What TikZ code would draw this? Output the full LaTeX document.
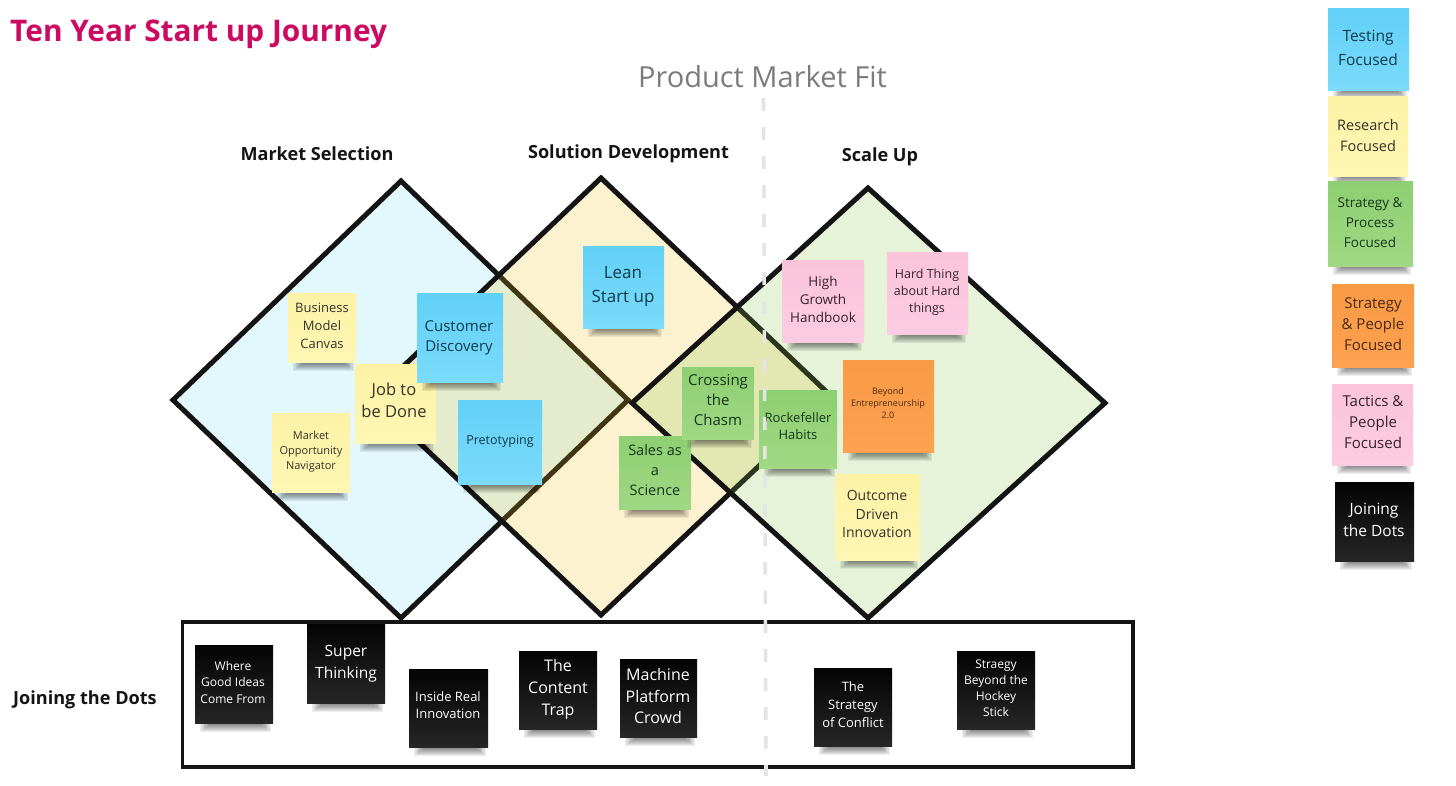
\documentclass[tikz,border=0pt]{standalone}
\usepackage{fontspec}
\setmainfont{Open Sans}
\definecolor{dline}{HTML}{141414}
\definecolor{dashgrey}{HTML}{E4E4E4}
\definecolor{dOneFill}{HTML}{E3F8FC}
\definecolor{dTwoFill}{RGB}{240,190,20}
\definecolor{dThreeFill}{RGB}{130,195,65}
\definecolor{titlepink}{HTML}{CC0A62}
\definecolor{pmfgrey}{HTML}{7C7C7C}
\definecolor{stBlueTop}{HTML}{62D0F7}\definecolor{stBlueBot}{HTML}{7BDBFA}
\definecolor{stYelTop}{HTML}{FDF2A6}\definecolor{stYelBot}{HTML}{FEF6B4}
\definecolor{stGreenTop}{HTML}{8DCF72}\definecolor{stGreenBot}{HTML}{A0D884}
\definecolor{stOrTop}{HTML}{F99A45}\definecolor{stOrBot}{HTML}{FDA251}
\definecolor{stPinkTop}{HTML}{FBC4DB}\definecolor{stPinkBot}{HTML}{FCCCE1}
\definecolor{stBlackTop}{HTML}{040404}\definecolor{stBlackBot}{HTML}{262626}
\definecolor{txBlue}{HTML}{0C3A4C}
\definecolor{txYel}{HTML}{33332A}
\definecolor{txGreen}{HTML}{17351A}
\definecolor{txOr}{HTML}{4A2A10}
\definecolor{txPink}{HTML}{33222C}
\tikzset{
  x=1pt,y=-1pt,
  diamondbox/.style={draw=dline,line width=5pt,line join=miter,miter limit=10},
  stickybase/.style={draw=none,inner sep=0pt,outer sep=0pt},
  stickyblue/.style={stickybase,top color=stBlueTop,bottom color=stBlueBot},
  stickyyellow/.style={stickybase,top color=stYelTop,bottom color=stYelBot},
  stickygreen/.style={stickybase,top color=stGreenTop,bottom color=stGreenBot},
  stickyorange/.style={stickybase,top color=stOrTop,bottom color=stOrBot},
  stickypink/.style={stickybase,top color=stPinkTop,bottom color=stPinkBot},
  stickyblack/.style={stickybase,top color=stBlackTop,bottom color=stBlackBot},
  heading/.style={font=\fontsize{18.1}{20}\selectfont\bfseries,text=black!92,inner sep=0pt},
}
% \sticky{name}{x0}{y0}{x1}{y1}{style}{text colour}{tx}{ty}{size}{leading}{text}
\newcommand{\sticky}[5]{\def\stN{#1}\def\stA{#2}\def\stB{#3}\def\stC{#4}\def\stD{#5}\stickyrest}
\newcommand{\stickyrest}[7]{%
  \foreach \i in {0,...,7}{
    \fill[black,opacity=.065] ({\stA+5+1.3*\i},\stD) rectangle ({\stC-2-1.3*\i},{\stD+8.5-\i});
  }
  \node[#1,minimum width={(\stC-\stA)*1pt},minimum height={(\stD-\stB)*1pt}]
     (\stN) at ({(\stA+\stC)/2},{(\stB+\stD)/2}) {};
  \node[inner sep=0pt,align=center,text=#2,font=\fontsize{#5}{#6}\selectfont]
     (\stN-t) at (#3,#4) {#7};
}
\begin{document}
\begin{tikzpicture}
\useasboundingbox (0,0) rectangle (1456,786);
\fill[white] (0,0) rectangle (1456,786);

% titles
\node[inner sep=0pt,anchor=west,text=titlepink,font=\fontsize{29.8}{32}\selectfont\bfseries] (title) at (10,34) {Ten Year Start up Journey};
\node[inner sep=0pt,text=pmfgrey,font=\fontsize{29}{32}\selectfont] (pmf) at (762.5,77) {Product Market Fit};
\node[heading] (hMarket) at (317,154) {Market Selection};
\node[heading] (hSolution) at (628.5,154) {Solution Development};
\node[heading] (hScale) at (880,157) {Scale Up};
\node[heading,anchor=west] (hJoin) at (13,700) {Joining the Dots};

% diamonds
\path[diamondbox,fill=dOneFill] (401,181) -- (628,400) -- (401,618) -- (173,400) -- cycle;
\path[diamondbox,fill=dTwoFill,fill opacity=.2] (601,178) -- (832,397) -- (601,615) -- (371,397) -- cycle;
\path[diamondbox,fill=dThreeFill,fill opacity=.2] (868,188) -- (1105,403) -- (868,618) -- (632,403) -- cycle;

% bottom box
\draw[draw=dline,line width=3.4pt,line join=miter] (182.5,622) rectangle (1133,767);

% stickies in the diamonds
\sticky{bmc}{288}{294}{356}{362}{stickyyellow}{txYel}{322}{326}{13}{18}{Business\\Model\\Canvas}
\sticky{mon}{272}{413}{350}{492}{stickyyellow}{txYel}{311}{452}{11}{15}{Market\\Opportunity\\Navigator}
\sticky{jtbd}{355}{364}{436}{443}{stickyyellow}{txYel}{394}{400}{16.5}{22}{Job to\\be Done}
\sticky{cd}{417}{294}{503}{382}{stickyblue}{txBlue}{459}{337.5}{15}{20}{Customer\\Discovery}
\sticky{pret}{458}{400}{542}{484}{stickyblue}{txBlue}{500}{441}{12.5}{16}{Pretotyping}
\sticky{lean}{583}{247}{664}{328}{stickyblue}{txBlue}{623}{286}{17}{24}{Lean\\Start up}
\sticky{sas}{619}{436}{691}{509}{stickygreen}{txGreen}{655}{470}{14.5}{20}{Sales as\\a\\Science}
\sticky{ctc}{682}{367}{754}{439}{stickygreen}{txGreen}{718}{400}{15}{20}{Crossing\\the\\Chasm}
\sticky{rock}{759}{390}{837}{468}{stickygreen}{txGreen}{798}{426}{13}{17.5}{Rockefeller\\Habits}
\sticky{hgh}{782}{261}{864}{342}{stickypink}{txPink}{823}{299}{13.5}{18}{High\\Growth\\Handbook}
\sticky{htht}{887}{253}{968}{334}{stickypink}{txPink}{927}{292}{12.5}{17}{Hard Thing\\about Hard\\things}
\sticky{be}{843}{360}{934}{452}{stickyorange}{txOr}{888}{403}{9}{12}{Beyond\\Entrepreneurship\\2.0}
\sticky{odi}{835}{474}{920}{560}{stickyyellow}{txYel}{877}{514}{14}{18.5}{Outcome\\Driven\\Innovation}

% stickies in the bottom box
\sticky{wgi}{195}{645}{273}{723}{stickyblack}{white}{233}{682}{12}{16.5}{Where\\Good Ideas\\Come From}
\sticky{sth}{307}{624}{385}{703}{stickyblack}{white}{346}{664}{15.5}{22}{Super\\Thinking}
\sticky{iri}{409}{669}{488}{747}{stickyblack}{white}{448}{705}{13}{17}{Inside Real\\Innovation}
\sticky{tct}{519}{651}{597}{729}{stickyblack}{white}{558}{689}{16}{22}{The\\Content\\Trap}
\sticky{mpc}{620}{659}{697}{737}{stickyblack}{white}{658}{696}{16}{21.5}{Machine\\Platform\\Crowd}
\sticky{soc}{814}{668}{892}{746}{stickyblack}{white}{853}{705}{13}{18}{The\\Strategy\\of Conflict}
\sticky{sbh}{957}{651}{1035}{729}{stickyblack}{white}{996}{688}{12}{16}{Straegy\\Beyond the\\Hockey\\Stick}

% legend
\sticky{lgT}{1328}{9}{1409}{91}{stickyblue}{txBlue}{1368}{47.5}{15.5}{24}{Testing\\Focused}
\sticky{lgR}{1328}{97}{1408}{177}{stickyyellow}{txYel}{1368}{135.5}{14.5}{21}{Research\\Focused}
\sticky{lgS}{1328}{182}{1413}{267}{stickygreen}{txGreen}{1370}{223}{13.5}{20}{Strategy \&\\Process\\Focused}
\sticky{lgO}{1332}{285}{1414}{367}{stickyorange}{txOr}{1373}{324}{15}{21}{Strategy\\\& People\\Focused}
\sticky{lgP}{1332}{384}{1413}{465}{stickypink}{txPink}{1373}{422}{15}{21}{Tactics \&\\People\\Focused}
\sticky{lgB}{1335}{482}{1414}{561}{stickyblack}{white}{1374}{520}{15.5}{21.5}{Joining\\the Dots}

% product market fit divider
\coordinate (pmfTop) at (763.5,98);
\coordinate (pmfBottom) at (766,776);
\draw[draw=dashgrey,line width=3.6pt,dash pattern=on 13pt off 16pt] (pmfTop) -- (pmfBottom);
\end{tikzpicture}
\end{document}
